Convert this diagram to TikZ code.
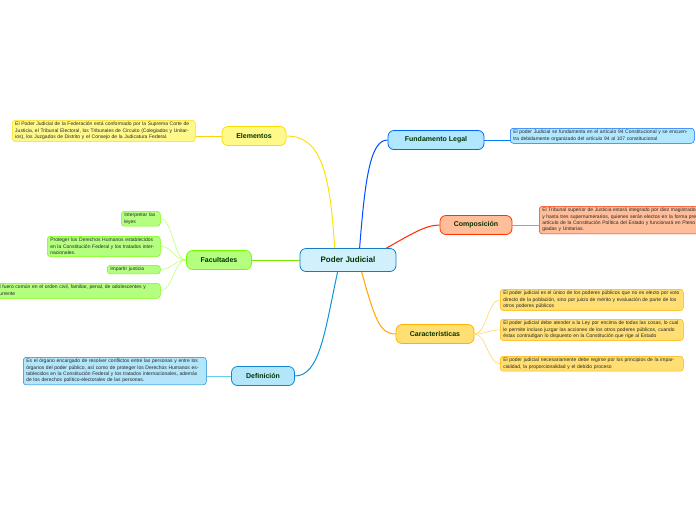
\documentclass[tikz,border=0pt]{standalone}
\usepackage{fontspec}
\setmainfont{Liberation Sans}
\usetikzlibrary{calc}
\begin{document}
\begin{tikzpicture}[x=1pt,y=-1pt,
 main/.style={draw,rounded corners=6pt,line width=0.8pt,font=\fontsize{7}{8}\selectfont\bfseries,text=black!80!green,align=center,inner sep=0pt},
 leaf/.style={draw,rounded corners=3pt,line width=0.5pt,font=\fontsize{5}{6.3}\selectfont,align=left,inner xsep=3pt,inner ysep=2pt,anchor=north west,text=black!85},
 yel/.style={fill=yellow!45!white,draw=yellow!80!orange},
 grn/.style={fill=lime!55!green!50!white,draw=lime!60!green},
 blu/.style={fill=cyan!30!white,draw=cyan!70!blue},
 fun/.style={fill=blue!30!cyan!30!white,draw=blue!60!cyan},
 cmp/.style={fill=red!30!orange!40!white,draw=red!60!orange},
 chr/.style={fill=orange!45!yellow!55!white,draw=orange!60!yellow}]
\useasboundingbox (0,0) rectangle (696,520);
\clip (0,0) rectangle (696,520);
\node[main,fill=cyan!18!white,draw=cyan!60!blue,minimum width=96pt,minimum height=23pt] (c) at (348,260) {\fontsize{8}{9}\selectfont Poder Judicial};
\node[main,yel,minimum width=64pt,minimum height=19pt] (el) at (254,136) {Elementos};
\node[main,grn,minimum width=65pt,minimum height=19pt] (fa) at (219,260) {Facultades};
\node[main,blu,minimum width=63pt,minimum height=19pt] (de) at (263,376) {Definición};
\node[main,fun,minimum width=96pt,minimum height=19pt] (fu) at (436,140) {Fundamento Legal};
\node[main,cmp,minimum width=72pt,minimum height=19pt] (co) at (476,225) {Composición};
\node[main,chr,minimum width=78pt,minimum height=19pt] (ch) at (435,334) {Características};
% leaves
\node[leaf,yel,text width=177pt] (el1) at (12,120) {El Poder Judicial de la Federación está conformado por la Suprema Corte de Justicia, el Tribunal Electoral, los Tribunales de Circuito (Colegiados y Unitarios), los Juzgados de Distrito y el Consejo de la Judicatura Federal.};
\node[leaf,grn,text width=33pt] (f1) at (121,211) {Interpretar las leyes};
\node[leaf,grn,text width=107pt] (f2) at (47,236) {Proteger los Derechos Humanos establecidos en la Constitución Federal y los tratados internacionales.};
\node[leaf,grn,text width=47pt] (f3) at (107,265) {Impartir justicia};
\node[leaf,grn,text width=224pt] (f4) at (-70,283) {Resolver las controversias del fuero común en el orden civil, familiar, penal, de adolescentes y mercantil en jurisdicción concurrente};
\node[leaf,blu,text width=177pt] (d1) at (23,357) {Es el órgano encargado de resolver conflictos entre las personas y entre los órganos del poder público, así como de proteger los Derechos Humanos establecidos en la Constitución Federal y los tratados internacionales, además de los derechos político-electorales de las personas.};
\node[leaf,fun,text width=178pt] (fu1) at (510,128) {El poder Judicial se fundamenta en el artículo 94 Constitucional y se encuentra debidamente organizado del artículo 94 al 107 constitucional};
\node[leaf,cmp,text width=190pt] (co1) at (539,206) {El Tribunal superior de Justicia estará integrado por diez magistrados numerarios y hasta tres supernumerarios, quienes serán electos en la forma prevista por el artículo de la Constitución Política del Estado y funcionará en Pleno en Salas Colegiadas y Unitarias.};
\node[leaf,chr,text width=177pt] (h1) at (500,289) {El poder judicial es el único de los poderes públicos que no es electo por voto directo de la población, sino por juicio de mérito y evaluación de parte de los otros poderes públicos};
\node[leaf,chr,text width=177pt] (h2) at (500,319) {El poder judicial debe atender a la Ley por encima de todas las cosas, lo cual le permite incluso juzgar las acciones de los otros poderes públicos, cuando éstas contradigan lo dispuesto en la Constitución que rige al Estado};
\node[leaf,chr,text width=177pt] (h3) at (500,356) {El poder judicial necesariamente debe regirse por los principios de la imparcialidad, la proporcionalidad y el debido proceso};
% main connectors
\begin{scope}[line width=1pt]
\draw[yellow!85!orange] ($(c.north west)+(35,0)$) .. controls (330,170) and (320,136) .. (el.east);
\draw[lime!70!green!90!black] (c.west) -- (fa.east);
\draw[cyan!80!blue] ($(c.south west)+(38,0)$) .. controls (325,330) and (320,376) .. (de.east);
\draw[blue!70!cyan] ($(c.north west)+(60,0)$) .. controls (365,180) and (370,140) .. (fu.west);
\draw[red!70!orange] ($(c.north east)+(-10,0)$) .. controls (410,235) and (425,225) .. (co.west);
\draw[orange!70!yellow] ($(c.south west)+(62,0)$) .. controls (375,320) and (380,334) .. (ch.west);
\end{scope}
% leaf connectors
\begin{scope}[line width=0.5pt]
\draw[yellow!70!orange] (el.west) -- (el1.east|-el.west);
\draw[cyan!60] (de.west) -- (d1.east|-de.west);
\draw[blue!50!cyan] (fu.east) -- (fu1.west|-fu.east);
\draw[red!40!orange!70] (co.east) -- (co1.west|-co.east);
\foreach \t in {f1,f2,f3,f4}
 \draw[lime!70!green!60] (fa.west) .. controls ($(fa.west)+(-12,0)$) and ($(\t.east)+(12,0)$) .. (\t.east);
\foreach \t in {h1,h2,h3}
 \draw[orange!50!yellow!70] (ch.east) .. controls ($(ch.east)+(12,0)$) and ($(\t.west)+(-12,0)$) .. (\t.west);
\end{scope}
\end{tikzpicture}
\end{document}
